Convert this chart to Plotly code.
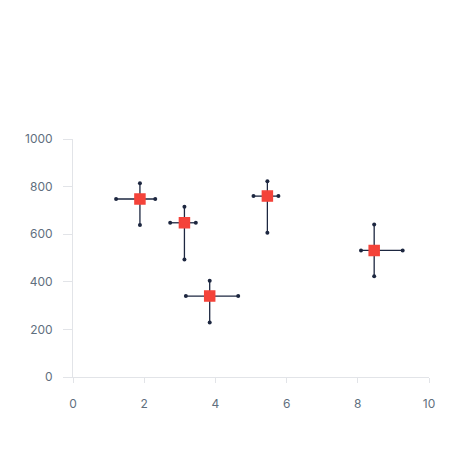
import plotly.graph_objects as go

x = [1.88, 3.13, 3.84, 5.46, 8.46]
y = [748, 648, 340, 760, 532]
x_minus = [0.67, 0.40, 0.67, 0.39, 0.37]
x_plus = [0.43, 0.32, 0.80, 0.31, 0.80]
y_minus = [109, 154, 111, 154, 109]
y_plus = [66, 67, 64, 63, 109]

navy = "#1d2740"
red = "#f4433a"
grey_text = "#5f6f7e"
axis_col = "#e2e4e8"

fig = go.Figure()

# end dots for error bars
ex, ey = [], []
for xi, yi, xm, xp, ym, yp in zip(x, y, x_minus, x_plus, y_minus, y_plus):
    ex += [xi - xm, xi + xp, xi, xi]
    ey += [yi, yi, yi - ym, yi + yp]

fig.add_trace(go.Scatter(
    x=x, y=y, mode="markers",
    marker=dict(size=0.1, color="rgba(0,0,0,0)"),
    error_x=dict(type="data", symmetric=False, array=x_plus, arrayminus=x_minus,
                 color=navy, thickness=1.3, width=0),
    error_y=dict(type="data", symmetric=False, array=y_plus, arrayminus=y_minus,
                 color=navy, thickness=1.3, width=0),
    showlegend=False, hoverinfo="skip"))

fig.add_trace(go.Scatter(
    x=ex, y=ey, mode="markers",
    marker=dict(size=4, color=navy),
    showlegend=False, hoverinfo="skip"))

fig.add_trace(go.Scatter(
    x=x, y=y, mode="markers",
    marker=dict(size=10, color=red, symbol="square", line=dict(width=1.5, color=red)),
    showlegend=False))

font_family = "Inter, Lato, sans-serif"
fig.update_layout(
    width=474, height=474,
    margin=dict(l=65, r=53, t=131, b=105),
    paper_bgcolor="white", plot_bgcolor="white",
    font=dict(family=font_family, size=12, color=grey_text),
    xaxis=dict(range=[0, 10], tickvals=[0, 2, 4, 6, 8, 10], showgrid=False, zeroline=False,
               showline=True, linecolor=axis_col, linewidth=1,
               ticks="outside", ticklen=5, tickcolor=axis_col,
               ticklabelstandoff=11, automargin=False),
    yaxis=dict(range=[0, 1000], tickvals=[0, 200, 400, 600, 800, 1000], showgrid=False, zeroline=False,
               showline=True, linecolor=axis_col, linewidth=1,
               ticks="outside", ticklen=9, tickcolor=axis_col,
               ticklabelstandoff=8, automargin=False),
)

fig.write_html("out.html")
